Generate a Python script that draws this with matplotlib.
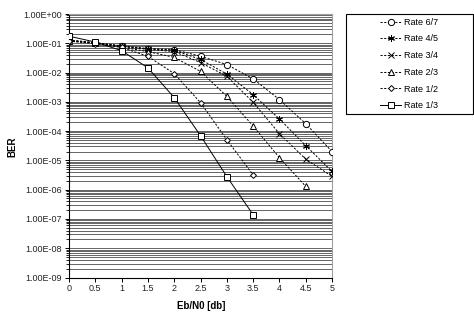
import numpy as np
import matplotlib
matplotlib.use("Agg")
import matplotlib.pyplot as plt
import matplotlib.ticker as ticker
from matplotlib.patches import Rectangle

plt.rcParams['font.family'] = ['Liberation Sans', 'DejaVu Sans']

ebn0 = [0, 0.5, 1, 1.5, 2, 2.5, 3, 3.5, 4, 4.5, 5]

ber_6_7 = [0.13, 0.106, 0.082, 0.066, 0.061, 0.036, 0.0188, 0.0061, 0.0012, 1.8e-4, 2.0e-5]
ber_4_5 = [0.125, 0.104, 0.08, 0.064, 0.058, 0.028, 0.0089, 0.00177, 2.6e-4, 3.2e-5, 4.2e-6]
ber_3_4 = [0.122, 0.102, 0.078, 0.062, 0.052, 0.022, 0.0075, 0.00097, 8.2e-5, 1.1e-5, 2.85e-6]
ber_2_3 = [0.12, 0.1, 0.074, 0.052, 0.033, 0.011, 0.00155, 1.5e-4, 1.24e-5, 1.3e-6]
ber_1_2 = [0.118, 0.098, 0.072, 0.036, 0.0092, 9.4e-4, 5.1e-5, 3.2e-6]
ber_1_3 = [0.175, 0.11, 0.056, 0.0145, 0.0014, 7.0e-5, 2.8e-6, 1.4e-7]

labels = ["Rate 6/7", "Rate 4/5", "Rate 3/4", "Rate 2/3", "Rate 1/2", "Rate 1/3"]
series = [ber_6_7, ber_4_5, ber_3_4, ber_2_3, ber_1_2, ber_1_3]
markers = ['o', (6, 2, 0), 'x', '^', 'D', 's']
msizes = [4.5, 5, 4.5, 4.5, 3, 4.5]

fig = plt.figure(figsize=(4.74, 3.2), dpi=100)
ax = fig.add_axes([69 / 474, 1 - 277.5 / 320, (332 - 69) / 474, (277.5 - 14) / 320])

dash = (0, (2.2, 1.6))
handles = []
for ys, lab, mk, ms in zip(series, labels, markers, msizes):
    ls = '-' if lab == "Rate 1/3" else dash
    h, = ax.plot(ebn0[:len(ys)], ys, linestyle=ls, color='black', linewidth=0.7,
                 marker=mk, markersize=ms, markerfacecolor='white',
                 markeredgecolor='black', markeredgewidth=0.7, label=lab, zorder=3)
    handles.append(h)

ax.set_yscale('log')
ax.set_ylim(1e-9, 1)
ax.set_xlim(0, 5)
ax.xaxis.set_major_locator(ticker.MultipleLocator(0.5))
ax.xaxis.set_major_formatter(ticker.FuncFormatter(lambda v, p: f"{v:g}"))
ax.yaxis.set_major_locator(ticker.LogLocator(base=10, numticks=20))
ax.yaxis.set_minor_locator(ticker.LogLocator(base=10, subs=np.arange(2, 10), numticks=20))
ax.yaxis.set_major_formatter(ticker.FuncFormatter(lambda v, p: f"{v:.2E}"))
ax.yaxis.set_minor_formatter(ticker.NullFormatter())

ax.grid(axis='y', which='both', color='#3a3a3a', linewidth=0.55)
ax.set_axisbelow(True)
ax.tick_params(axis='both', which='major', labelsize=6.5, length=3, width=0.7,
               direction='out', pad=2, colors='black', labelcolor='#222222')
ax.tick_params(axis='y', which='minor', length=2, width=0.6, direction='out')
for s in ['top', 'right']:
    ax.spines[s].set_color('#a0a0a0')
    ax.spines[s].set_linewidth(0.8)
for s in ['left', 'bottom']:
    ax.spines[s].set_color('black')
    ax.spines[s].set_linewidth(0.8)

fig.text(12 / 474, 1 - 147 / 320, "BER", rotation=90, fontsize=7, fontweight='bold',
         ha='center', va='center')
fig.text(201 / 474, 1 - 306 / 320, "Eb/N0 [db]", fontsize=7, fontweight='bold',
         ha='center', va='center')

# legend box
fig.patches.append(Rectangle((346 / 474, 1 - 114 / 320), (473 - 346) / 474, 100 / 320,
                             transform=fig.transFigure, facecolor='white',
                             edgecolor='black', linewidth=0.8))
fig.legend(handles=handles, loc='center', bbox_to_anchor=(409 / 474, 1 - 64 / 320),
           frameon=False, fontsize=6.5, handlelength=2.4, handletextpad=0.3,
           labelspacing=0.85, borderpad=0)

fig.savefig("out.png", dpi=100)
